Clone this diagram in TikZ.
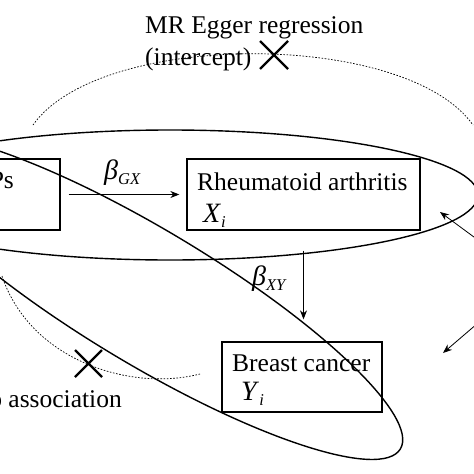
\documentclass[tikz,border=0pt]{standalone}
\usepackage{fontspec}
\setmainfont{Liberation Serif}
\usetikzlibrary{arrows.meta}
\newcommand{\mysub}[2]{{\fontsize{28}{30}\selectfont\textit{#1}}\raisebox{-0.2em}{\fontsize{16.5}{16}\selectfont\textit{#2}}}
\begin{document}
\begin{tikzpicture}[x=1pt,y=-1pt,
  every node/.style={font=\fontsize{25.5}{30}\selectfont, inner sep=0pt},
  boxnode/.style={draw, line width=1.3pt, rectangle},
  arr/.style={-{Stealth[length=9pt,width=7pt]}, line width=0.8pt},
  ringline/.style={line width=1.4pt},
  dotline/.style={line width=0.7pt, dash pattern=on 1.6pt off 1.6pt},
  xmark/.style={line width=2.2pt}]
\useasboundingbox (0,0) rectangle (474,474);
\clip (0,0) rectangle (474,474);

% boxes
\node[boxnode, minimum width=160pt, minimum height=71pt] (snp) at (-20,194.5) {};
\node[boxnode, minimum width=233pt, minimum height=71pt] (ra) at (303.5,194.5) {};
\node[boxnode, minimum width=160pt, minimum height=70pt] (bc) at (302,377) {};

% texts
\node[anchor=base west] (snpt) at (-43,188) {SNPs};
\node[anchor=base west] (rat) at (197,190) {Rheumatoid arthritis};
\node[anchor=base west] (rax) at (203,222) {\mysub{X}{i}};
\node[anchor=base west] (bct) at (232,371) {Breast cancer};
\node[anchor=base west] (bcy) at (241,400) {\mysub{Y}{i}};
\node[anchor=base east] (noa) at (122,407) {No association};
\node[anchor=base west] (mr) at (145,33) {MR Egger regression};
\node[anchor=base west] (icp) at (145,65) {(intercept)};
\node[anchor=base west] (bgx) at (104,179) {\mysub{β}{GX}};
\node[anchor=base west] (bxy) at (252,285) {\mysub{β}{XY}};

% ellipses
\draw[ringline] (170,195) ellipse [x radius=308pt, y radius=65pt];
\draw[ringline, rotate around={-31:(147.5,297)}] (147.5,297) ellipse [x radius=295pt, y radius=67pt];

% arrows
\draw[arr] ([xshift=8pt]snp.east) -- ([xshift=-7pt]ra.west);
\draw[arr] ([yshift=-20pt]ra.south) -- ([yshift=22pt]ra.south |- bc.north);
\coordinate (r1s) at (478,240);
\coordinate (r1e) at (440,212);
\coordinate (r2s) at (478,323);
\coordinate (r2e) at (443,353);
\draw[arr] (r1s) -- (r1e);
\draw[arr] (r2s) -- (r2e);

% dotted arcs
\coordinate (t1) at (33,125);
\coordinate (t2) at (473,125);
\draw[dotline] (t1) .. controls (100,30) and (406,30) .. (t2);
\coordinate (b1) at (2,276);
\coordinate (b2) at (200,374);
\draw[dotline] (b1) .. controls (30,360) and (130,392) .. (b2);

% crosses
\draw[xmark] (260,41) -- (288,69) (260,69) -- (288,41);
\draw[xmark] (75,350) -- (102,377) (75,377) -- (102,350);
\end{tikzpicture}
\end{document}
